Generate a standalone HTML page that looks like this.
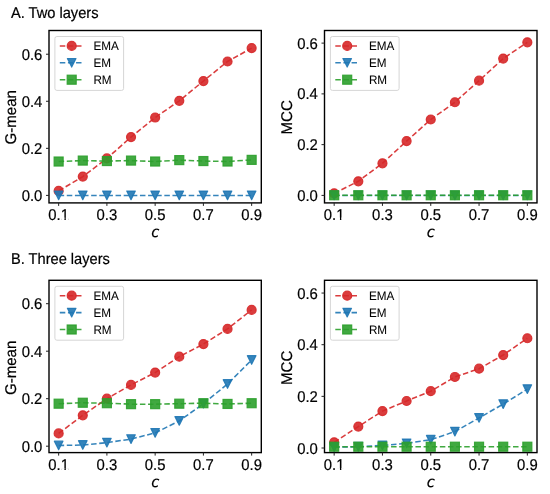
<!DOCTYPE html>
<html><head><meta charset="utf-8"><title>Figure</title>
<style>
html,body{margin:0;padding:0;background:#fff;}
svg{display:block;}
text{font-family:"Liberation Sans", Arial, sans-serif;fill:#000;text-rendering:geometricPrecision;}
</style></head>
<body>
<svg width="550" height="494" viewBox="0 0 550 494">
<rect width="550" height="494" fill="#fff"/>
<text transform="translate(10.90 17.60) scale(1.010 1.070)" font-size="14.50" text-anchor="start" stroke="#000" stroke-width="0.20" >A. Two layers</text>
<text transform="translate(10.90 263.60) scale(1.010 1.070)" font-size="14.50" text-anchor="start" stroke="#000" stroke-width="0.20" >B. Three layers</text>
<g opacity="0.90">
<path d="M58.65 190.93L82.78 176.58L106.90 158.46L131.03 137.05L155.15 117.52L179.28 100.81L203.40 81.04L227.53 61.51L251.65 48.10" fill="none" stroke="rgb(214,39,40)" stroke-width="1.55" stroke-dasharray="5.5,2.63"/>
</g>
<circle cx="58.65" cy="190.93" r="4.50" fill="rgb(214,39,40)" stroke="rgb(214,39,40)" stroke-width="1.20" fill-opacity="0.90" stroke-opacity="0.90"/>
<circle cx="82.78" cy="176.58" r="4.50" fill="rgb(214,39,40)" stroke="rgb(214,39,40)" stroke-width="1.20" fill-opacity="0.90" stroke-opacity="0.90"/>
<circle cx="106.90" cy="158.46" r="4.50" fill="rgb(214,39,40)" stroke="rgb(214,39,40)" stroke-width="1.20" fill-opacity="0.90" stroke-opacity="0.90"/>
<circle cx="131.03" cy="137.05" r="4.50" fill="rgb(214,39,40)" stroke="rgb(214,39,40)" stroke-width="1.20" fill-opacity="0.90" stroke-opacity="0.90"/>
<circle cx="155.15" cy="117.52" r="4.50" fill="rgb(214,39,40)" stroke="rgb(214,39,40)" stroke-width="1.20" fill-opacity="0.90" stroke-opacity="0.90"/>
<circle cx="179.28" cy="100.81" r="4.50" fill="rgb(214,39,40)" stroke="rgb(214,39,40)" stroke-width="1.20" fill-opacity="0.90" stroke-opacity="0.90"/>
<circle cx="203.40" cy="81.04" r="4.50" fill="rgb(214,39,40)" stroke="rgb(214,39,40)" stroke-width="1.20" fill-opacity="0.90" stroke-opacity="0.90"/>
<circle cx="227.53" cy="61.51" r="4.50" fill="rgb(214,39,40)" stroke="rgb(214,39,40)" stroke-width="1.20" fill-opacity="0.90" stroke-opacity="0.90"/>
<circle cx="251.65" cy="48.10" r="4.50" fill="rgb(214,39,40)" stroke="rgb(214,39,40)" stroke-width="1.20" fill-opacity="0.90" stroke-opacity="0.90"/>
<g opacity="0.90">
<path d="M58.65 195.40L82.78 195.40L106.90 195.40L131.03 195.40L155.15 195.40L179.28 195.40L203.40 195.40L227.53 195.40L251.65 195.40" fill="none" stroke="rgb(31,119,180)" stroke-width="1.55" stroke-dasharray="5.5,2.63"/>
</g>
<path d="M54.35 191.10L62.95 191.10L58.65 199.70Z" fill="rgb(31,119,180)" stroke="rgb(31,119,180)" stroke-linejoin="round" stroke-width="1.20" fill-opacity="0.90" stroke-opacity="0.90"/>
<path d="M78.48 191.10L87.08 191.10L82.78 199.70Z" fill="rgb(31,119,180)" stroke="rgb(31,119,180)" stroke-linejoin="round" stroke-width="1.20" fill-opacity="0.90" stroke-opacity="0.90"/>
<path d="M102.60 191.10L111.20 191.10L106.90 199.70Z" fill="rgb(31,119,180)" stroke="rgb(31,119,180)" stroke-linejoin="round" stroke-width="1.20" fill-opacity="0.90" stroke-opacity="0.90"/>
<path d="M126.73 191.10L135.33 191.10L131.03 199.70Z" fill="rgb(31,119,180)" stroke="rgb(31,119,180)" stroke-linejoin="round" stroke-width="1.20" fill-opacity="0.90" stroke-opacity="0.90"/>
<path d="M150.85 191.10L159.45 191.10L155.15 199.70Z" fill="rgb(31,119,180)" stroke="rgb(31,119,180)" stroke-linejoin="round" stroke-width="1.20" fill-opacity="0.90" stroke-opacity="0.90"/>
<path d="M174.97 191.10L183.58 191.10L179.28 199.70Z" fill="rgb(31,119,180)" stroke="rgb(31,119,180)" stroke-linejoin="round" stroke-width="1.20" fill-opacity="0.90" stroke-opacity="0.90"/>
<path d="M199.10 191.10L207.70 191.10L203.40 199.70Z" fill="rgb(31,119,180)" stroke="rgb(31,119,180)" stroke-linejoin="round" stroke-width="1.20" fill-opacity="0.90" stroke-opacity="0.90"/>
<path d="M223.22 191.10L231.83 191.10L227.53 199.70Z" fill="rgb(31,119,180)" stroke="rgb(31,119,180)" stroke-linejoin="round" stroke-width="1.20" fill-opacity="0.90" stroke-opacity="0.90"/>
<path d="M247.35 191.10L255.95 191.10L251.65 199.70Z" fill="rgb(31,119,180)" stroke="rgb(31,119,180)" stroke-linejoin="round" stroke-width="1.20" fill-opacity="0.90" stroke-opacity="0.90"/>
<g opacity="0.90">
<path d="M58.65 161.52L82.78 160.58L106.90 161.05L131.03 160.58L155.15 161.52L179.28 160.11L203.40 161.05L227.53 161.52L251.65 159.87" fill="none" stroke="rgb(44,160,44)" stroke-width="1.55" stroke-dasharray="5.5,2.63"/>
</g>
<rect x="54.15" y="157.02" width="9.00" height="9.00" fill="rgb(44,160,44)" stroke="rgb(44,160,44)" stroke-width="1.20" fill-opacity="0.90" stroke-opacity="0.90"/>
<rect x="78.28" y="156.08" width="9.00" height="9.00" fill="rgb(44,160,44)" stroke="rgb(44,160,44)" stroke-width="1.20" fill-opacity="0.90" stroke-opacity="0.90"/>
<rect x="102.40" y="156.55" width="9.00" height="9.00" fill="rgb(44,160,44)" stroke="rgb(44,160,44)" stroke-width="1.20" fill-opacity="0.90" stroke-opacity="0.90"/>
<rect x="126.53" y="156.08" width="9.00" height="9.00" fill="rgb(44,160,44)" stroke="rgb(44,160,44)" stroke-width="1.20" fill-opacity="0.90" stroke-opacity="0.90"/>
<rect x="150.65" y="157.02" width="9.00" height="9.00" fill="rgb(44,160,44)" stroke="rgb(44,160,44)" stroke-width="1.20" fill-opacity="0.90" stroke-opacity="0.90"/>
<rect x="174.78" y="155.61" width="9.00" height="9.00" fill="rgb(44,160,44)" stroke="rgb(44,160,44)" stroke-width="1.20" fill-opacity="0.90" stroke-opacity="0.90"/>
<rect x="198.90" y="156.55" width="9.00" height="9.00" fill="rgb(44,160,44)" stroke="rgb(44,160,44)" stroke-width="1.20" fill-opacity="0.90" stroke-opacity="0.90"/>
<rect x="223.03" y="157.02" width="9.00" height="9.00" fill="rgb(44,160,44)" stroke="rgb(44,160,44)" stroke-width="1.20" fill-opacity="0.90" stroke-opacity="0.90"/>
<rect x="247.15" y="155.37" width="9.00" height="9.00" fill="rgb(44,160,44)" stroke="rgb(44,160,44)" stroke-width="1.20" fill-opacity="0.90" stroke-opacity="0.90"/>
<rect x="49.00" y="30.50" width="212.30" height="172.40" fill="none" stroke="#000" stroke-width="1.4" stroke-linejoin="miter"/>
<path d="M58.65 202.90L58.65 205.90" stroke="#222" stroke-width="1.0"/>
<text transform="translate(58.65 219.70) scale(1.025 1.070)" font-size="14.50" text-anchor="middle" stroke="#000" stroke-width="0.20" >0.1</text>
<rect x="61.46" y="217.59" width="2.98" height="3.76" fill="#fff"/>
<rect x="65.80" y="217.59" width="2.87" height="3.76" fill="#fff"/>
<path d="M106.90 202.90L106.90 205.90" stroke="#222" stroke-width="1.0"/>
<text transform="translate(106.90 219.70) scale(1.025 1.070)" font-size="14.50" text-anchor="middle" stroke="#000" stroke-width="0.20" >0.3</text>
<path d="M155.15 202.90L155.15 205.90" stroke="#222" stroke-width="1.0"/>
<text transform="translate(155.15 219.70) scale(1.025 1.070)" font-size="14.50" text-anchor="middle" stroke="#000" stroke-width="0.20" >0.5</text>
<path d="M203.40 202.90L203.40 205.90" stroke="#222" stroke-width="1.0"/>
<text transform="translate(203.40 219.70) scale(1.025 1.070)" font-size="14.50" text-anchor="middle" stroke="#000" stroke-width="0.20" >0.7</text>
<path d="M251.65 202.90L251.65 205.90" stroke="#222" stroke-width="1.0"/>
<text transform="translate(251.65 219.70) scale(1.025 1.070)" font-size="14.50" text-anchor="middle" stroke="#000" stroke-width="0.20" >0.9</text>
<path d="M46.00 195.40L49.00 195.40" stroke="#222" stroke-width="1.0"/>
<text transform="translate(42.40 200.96) scale(1.025 1.070)" font-size="14.50" text-anchor="end" stroke="#000" stroke-width="0.20" >0.0</text>
<path d="M46.00 148.34L49.00 148.34" stroke="#222" stroke-width="1.0"/>
<text transform="translate(42.40 153.90) scale(1.025 1.070)" font-size="14.50" text-anchor="end" stroke="#000" stroke-width="0.20" >0.2</text>
<path d="M46.00 101.28L49.00 101.28" stroke="#222" stroke-width="1.0"/>
<text transform="translate(42.40 106.84) scale(1.025 1.070)" font-size="14.50" text-anchor="end" stroke="#000" stroke-width="0.20" >0.4</text>
<path d="M46.00 54.22L49.00 54.22" stroke="#222" stroke-width="1.0"/>
<text transform="translate(42.40 59.78) scale(1.025 1.070)" font-size="14.50" text-anchor="end" stroke="#000" stroke-width="0.20" >0.6</text>
<text transform="translate(16.00 117.30) rotate(-90) scale(1.040 1.070)" font-size="14.50" text-anchor="middle" stroke="#000" stroke-width="0.20" >G-mean</text>
<text transform="translate(155.15 236.60) scale(1.010 1.030)" font-size="14.50" text-anchor="middle" stroke="#000" stroke-width="0.20" style="font-family:'DejaVu Sans',sans-serif;font-style:italic">c</text>
<rect x="54.90" y="36.50" width="68.70" height="53.90" rx="2" ry="2" fill="#fff" fill-opacity="0.8" stroke="#d6d6d6" stroke-opacity="1" stroke-width="1"/>
<g opacity="0.90"><path d="M59.80 45.90L81.50 45.90" stroke="rgb(214,39,40)" stroke-width="1.55" stroke-dasharray="5.5,2.63"/></g>
<circle cx="71.70" cy="45.90" r="4.50" fill="rgb(214,39,40)" stroke="rgb(214,39,40)" stroke-width="1.20" fill-opacity="0.90" stroke-opacity="0.90"/>
<text transform="translate(93.40 50.30) scale(1.010 1.060)" font-size="11.60" text-anchor="start" stroke="#000" stroke-width="0.05" >EMA</text>
<g opacity="0.90"><path d="M59.80 62.80L81.50 62.80" stroke="rgb(31,119,180)" stroke-width="1.55" stroke-dasharray="5.5,2.63"/></g>
<path d="M67.40 58.50L76.00 58.50L71.70 67.10Z" fill="rgb(31,119,180)" stroke="rgb(31,119,180)" stroke-linejoin="round" stroke-width="1.20" fill-opacity="0.90" stroke-opacity="0.90"/>
<text transform="translate(93.40 67.20) scale(1.010 1.060)" font-size="11.60" text-anchor="start" stroke="#000" stroke-width="0.05" >EM</text>
<g opacity="0.90"><path d="M59.80 79.70L81.50 79.70" stroke="rgb(44,160,44)" stroke-width="1.55" stroke-dasharray="5.5,2.63"/></g>
<rect x="67.20" y="75.20" width="9.00" height="9.00" fill="rgb(44,160,44)" stroke="rgb(44,160,44)" stroke-width="1.20" fill-opacity="0.90" stroke-opacity="0.90"/>
<text transform="translate(93.40 84.10) scale(1.010 1.060)" font-size="11.60" text-anchor="start" stroke="#000" stroke-width="0.05" >RM</text>
<g opacity="0.90">
<path d="M334.16 193.37L358.31 181.29L382.45 163.29L406.60 141.09L430.75 119.51L454.90 102.26L479.05 80.68L503.19 58.60L527.34 42.36" fill="none" stroke="rgb(214,39,40)" stroke-width="1.55" stroke-dasharray="5.5,2.63"/>
</g>
<circle cx="334.16" cy="193.37" r="4.50" fill="rgb(214,39,40)" stroke="rgb(214,39,40)" stroke-width="1.20" fill-opacity="0.90" stroke-opacity="0.90"/>
<circle cx="358.31" cy="181.29" r="4.50" fill="rgb(214,39,40)" stroke="rgb(214,39,40)" stroke-width="1.20" fill-opacity="0.90" stroke-opacity="0.90"/>
<circle cx="382.45" cy="163.29" r="4.50" fill="rgb(214,39,40)" stroke="rgb(214,39,40)" stroke-width="1.20" fill-opacity="0.90" stroke-opacity="0.90"/>
<circle cx="406.60" cy="141.09" r="4.50" fill="rgb(214,39,40)" stroke="rgb(214,39,40)" stroke-width="1.20" fill-opacity="0.90" stroke-opacity="0.90"/>
<circle cx="430.75" cy="119.51" r="4.50" fill="rgb(214,39,40)" stroke="rgb(214,39,40)" stroke-width="1.20" fill-opacity="0.90" stroke-opacity="0.90"/>
<circle cx="454.90" cy="102.26" r="4.50" fill="rgb(214,39,40)" stroke="rgb(214,39,40)" stroke-width="1.20" fill-opacity="0.90" stroke-opacity="0.90"/>
<circle cx="479.05" cy="80.68" r="4.50" fill="rgb(214,39,40)" stroke="rgb(214,39,40)" stroke-width="1.20" fill-opacity="0.90" stroke-opacity="0.90"/>
<circle cx="503.19" cy="58.60" r="4.50" fill="rgb(214,39,40)" stroke="rgb(214,39,40)" stroke-width="1.20" fill-opacity="0.90" stroke-opacity="0.90"/>
<circle cx="527.34" cy="42.36" r="4.50" fill="rgb(214,39,40)" stroke="rgb(214,39,40)" stroke-width="1.20" fill-opacity="0.90" stroke-opacity="0.90"/>
<g opacity="0.90">
<path d="M334.16 195.40L358.31 195.40L382.45 195.40L406.60 195.40L430.75 195.40L454.90 195.40L479.05 195.40L503.19 195.40L527.34 195.40" fill="none" stroke="rgb(31,119,180)" stroke-width="1.55" stroke-dasharray="5.5,2.63"/>
</g>
<path d="M329.86 191.10L338.46 191.10L334.16 199.70Z" fill="rgb(31,119,180)" stroke="rgb(31,119,180)" stroke-linejoin="round" stroke-width="1.20" fill-opacity="0.90" stroke-opacity="0.90"/>
<path d="M354.01 191.10L362.61 191.10L358.31 199.70Z" fill="rgb(31,119,180)" stroke="rgb(31,119,180)" stroke-linejoin="round" stroke-width="1.20" fill-opacity="0.90" stroke-opacity="0.90"/>
<path d="M378.15 191.10L386.75 191.10L382.45 199.70Z" fill="rgb(31,119,180)" stroke="rgb(31,119,180)" stroke-linejoin="round" stroke-width="1.20" fill-opacity="0.90" stroke-opacity="0.90"/>
<path d="M402.30 191.10L410.90 191.10L406.60 199.70Z" fill="rgb(31,119,180)" stroke="rgb(31,119,180)" stroke-linejoin="round" stroke-width="1.20" fill-opacity="0.90" stroke-opacity="0.90"/>
<path d="M426.45 191.10L435.05 191.10L430.75 199.70Z" fill="rgb(31,119,180)" stroke="rgb(31,119,180)" stroke-linejoin="round" stroke-width="1.20" fill-opacity="0.90" stroke-opacity="0.90"/>
<path d="M450.60 191.10L459.20 191.10L454.90 199.70Z" fill="rgb(31,119,180)" stroke="rgb(31,119,180)" stroke-linejoin="round" stroke-width="1.20" fill-opacity="0.90" stroke-opacity="0.90"/>
<path d="M474.75 191.10L483.35 191.10L479.05 199.70Z" fill="rgb(31,119,180)" stroke="rgb(31,119,180)" stroke-linejoin="round" stroke-width="1.20" fill-opacity="0.90" stroke-opacity="0.90"/>
<path d="M498.89 191.10L507.49 191.10L503.19 199.70Z" fill="rgb(31,119,180)" stroke="rgb(31,119,180)" stroke-linejoin="round" stroke-width="1.20" fill-opacity="0.90" stroke-opacity="0.90"/>
<path d="M523.04 191.10L531.64 191.10L527.34 199.70Z" fill="rgb(31,119,180)" stroke="rgb(31,119,180)" stroke-linejoin="round" stroke-width="1.20" fill-opacity="0.90" stroke-opacity="0.90"/>
<g opacity="0.90">
<path d="M334.16 195.25L358.31 195.25L382.45 195.25L406.60 195.25L430.75 195.25L454.90 195.25L479.05 195.25L503.19 195.25L527.34 195.25" fill="none" stroke="rgb(44,160,44)" stroke-width="1.55" stroke-dasharray="5.5,2.63"/>
</g>
<rect x="329.66" y="190.75" width="9.00" height="9.00" fill="rgb(44,160,44)" stroke="rgb(44,160,44)" stroke-width="1.20" fill-opacity="0.90" stroke-opacity="0.90"/>
<rect x="353.81" y="190.75" width="9.00" height="9.00" fill="rgb(44,160,44)" stroke="rgb(44,160,44)" stroke-width="1.20" fill-opacity="0.90" stroke-opacity="0.90"/>
<rect x="377.95" y="190.75" width="9.00" height="9.00" fill="rgb(44,160,44)" stroke="rgb(44,160,44)" stroke-width="1.20" fill-opacity="0.90" stroke-opacity="0.90"/>
<rect x="402.10" y="190.75" width="9.00" height="9.00" fill="rgb(44,160,44)" stroke="rgb(44,160,44)" stroke-width="1.20" fill-opacity="0.90" stroke-opacity="0.90"/>
<rect x="426.25" y="190.75" width="9.00" height="9.00" fill="rgb(44,160,44)" stroke="rgb(44,160,44)" stroke-width="1.20" fill-opacity="0.90" stroke-opacity="0.90"/>
<rect x="450.40" y="190.75" width="9.00" height="9.00" fill="rgb(44,160,44)" stroke="rgb(44,160,44)" stroke-width="1.20" fill-opacity="0.90" stroke-opacity="0.90"/>
<rect x="474.55" y="190.75" width="9.00" height="9.00" fill="rgb(44,160,44)" stroke="rgb(44,160,44)" stroke-width="1.20" fill-opacity="0.90" stroke-opacity="0.90"/>
<rect x="498.69" y="190.75" width="9.00" height="9.00" fill="rgb(44,160,44)" stroke="rgb(44,160,44)" stroke-width="1.20" fill-opacity="0.90" stroke-opacity="0.90"/>
<rect x="522.84" y="190.75" width="9.00" height="9.00" fill="rgb(44,160,44)" stroke="rgb(44,160,44)" stroke-width="1.20" fill-opacity="0.90" stroke-opacity="0.90"/>
<rect x="324.50" y="30.50" width="212.50" height="172.40" fill="none" stroke="#000" stroke-width="1.4" stroke-linejoin="miter"/>
<path d="M334.16 202.90L334.16 205.90" stroke="#222" stroke-width="1.0"/>
<text transform="translate(334.16 219.70) scale(1.025 1.070)" font-size="14.50" text-anchor="middle" stroke="#000" stroke-width="0.20" >0.1</text>
<rect x="336.97" y="217.59" width="2.98" height="3.76" fill="#fff"/>
<rect x="341.31" y="217.59" width="2.87" height="3.76" fill="#fff"/>
<path d="M382.45 202.90L382.45 205.90" stroke="#222" stroke-width="1.0"/>
<text transform="translate(382.45 219.70) scale(1.025 1.070)" font-size="14.50" text-anchor="middle" stroke="#000" stroke-width="0.20" >0.3</text>
<path d="M430.75 202.90L430.75 205.90" stroke="#222" stroke-width="1.0"/>
<text transform="translate(430.75 219.70) scale(1.025 1.070)" font-size="14.50" text-anchor="middle" stroke="#000" stroke-width="0.20" >0.5</text>
<path d="M479.05 202.90L479.05 205.90" stroke="#222" stroke-width="1.0"/>
<text transform="translate(479.05 219.70) scale(1.025 1.070)" font-size="14.50" text-anchor="middle" stroke="#000" stroke-width="0.20" >0.7</text>
<path d="M527.34 202.90L527.34 205.90" stroke="#222" stroke-width="1.0"/>
<text transform="translate(527.34 219.70) scale(1.025 1.070)" font-size="14.50" text-anchor="middle" stroke="#000" stroke-width="0.20" >0.9</text>
<path d="M321.50 195.40L324.50 195.40" stroke="#222" stroke-width="1.0"/>
<text transform="translate(317.90 200.96) scale(1.025 1.070)" font-size="14.50" text-anchor="end" stroke="#000" stroke-width="0.20" >0.0</text>
<path d="M321.50 144.64L324.50 144.64" stroke="#222" stroke-width="1.0"/>
<text transform="translate(317.90 150.20) scale(1.025 1.070)" font-size="14.50" text-anchor="end" stroke="#000" stroke-width="0.20" >0.2</text>
<path d="M321.50 93.88L324.50 93.88" stroke="#222" stroke-width="1.0"/>
<text transform="translate(317.90 99.44) scale(1.025 1.070)" font-size="14.50" text-anchor="end" stroke="#000" stroke-width="0.20" >0.4</text>
<path d="M321.50 43.12L324.50 43.12" stroke="#222" stroke-width="1.0"/>
<text transform="translate(317.90 48.68) scale(1.025 1.070)" font-size="14.50" text-anchor="end" stroke="#000" stroke-width="0.20" >0.6</text>
<text transform="translate(291.50 117.30) rotate(-90) scale(1.040 1.070)" font-size="14.50" text-anchor="middle" stroke="#000" stroke-width="0.20" >MCC</text>
<text transform="translate(430.75 236.60) scale(1.010 1.030)" font-size="14.50" text-anchor="middle" stroke="#000" stroke-width="0.20" style="font-family:'DejaVu Sans',sans-serif;font-style:italic">c</text>
<rect x="330.40" y="36.50" width="68.70" height="53.90" rx="2" ry="2" fill="#fff" fill-opacity="0.8" stroke="#d6d6d6" stroke-opacity="1" stroke-width="1"/>
<g opacity="0.90"><path d="M335.30 45.90L357.00 45.90" stroke="rgb(214,39,40)" stroke-width="1.55" stroke-dasharray="5.5,2.63"/></g>
<circle cx="347.20" cy="45.90" r="4.50" fill="rgb(214,39,40)" stroke="rgb(214,39,40)" stroke-width="1.20" fill-opacity="0.90" stroke-opacity="0.90"/>
<text transform="translate(368.90 50.30) scale(1.010 1.060)" font-size="11.60" text-anchor="start" stroke="#000" stroke-width="0.05" >EMA</text>
<g opacity="0.90"><path d="M335.30 62.80L357.00 62.80" stroke="rgb(31,119,180)" stroke-width="1.55" stroke-dasharray="5.5,2.63"/></g>
<path d="M342.90 58.50L351.50 58.50L347.20 67.10Z" fill="rgb(31,119,180)" stroke="rgb(31,119,180)" stroke-linejoin="round" stroke-width="1.20" fill-opacity="0.90" stroke-opacity="0.90"/>
<text transform="translate(368.90 67.20) scale(1.010 1.060)" font-size="11.60" text-anchor="start" stroke="#000" stroke-width="0.05" >EM</text>
<g opacity="0.90"><path d="M335.30 79.70L357.00 79.70" stroke="rgb(44,160,44)" stroke-width="1.55" stroke-dasharray="5.5,2.63"/></g>
<rect x="342.70" y="75.20" width="9.00" height="9.00" fill="rgb(44,160,44)" stroke="rgb(44,160,44)" stroke-width="1.20" fill-opacity="0.90" stroke-opacity="0.90"/>
<text transform="translate(368.90 84.10) scale(1.010 1.060)" font-size="11.60" text-anchor="start" stroke="#000" stroke-width="0.05" >RM</text>
<g opacity="0.90">
<path d="M58.65 433.38L82.78 415.32L106.90 398.70L131.03 384.93L155.15 372.57L179.28 356.66L203.40 344.07L227.53 328.88L251.65 309.88" fill="none" stroke="rgb(214,39,40)" stroke-width="1.55" stroke-dasharray="5.5,2.63"/>
</g>
<circle cx="58.65" cy="433.38" r="4.50" fill="rgb(214,39,40)" stroke="rgb(214,39,40)" stroke-width="1.20" fill-opacity="0.90" stroke-opacity="0.90"/>
<circle cx="82.78" cy="415.32" r="4.50" fill="rgb(214,39,40)" stroke="rgb(214,39,40)" stroke-width="1.20" fill-opacity="0.90" stroke-opacity="0.90"/>
<circle cx="106.90" cy="398.70" r="4.50" fill="rgb(214,39,40)" stroke="rgb(214,39,40)" stroke-width="1.20" fill-opacity="0.90" stroke-opacity="0.90"/>
<circle cx="131.03" cy="384.93" r="4.50" fill="rgb(214,39,40)" stroke="rgb(214,39,40)" stroke-width="1.20" fill-opacity="0.90" stroke-opacity="0.90"/>
<circle cx="155.15" cy="372.57" r="4.50" fill="rgb(214,39,40)" stroke="rgb(214,39,40)" stroke-width="1.20" fill-opacity="0.90" stroke-opacity="0.90"/>
<circle cx="179.28" cy="356.66" r="4.50" fill="rgb(214,39,40)" stroke="rgb(214,39,40)" stroke-width="1.20" fill-opacity="0.90" stroke-opacity="0.90"/>
<circle cx="203.40" cy="344.07" r="4.50" fill="rgb(214,39,40)" stroke="rgb(214,39,40)" stroke-width="1.20" fill-opacity="0.90" stroke-opacity="0.90"/>
<circle cx="227.53" cy="328.88" r="4.50" fill="rgb(214,39,40)" stroke="rgb(214,39,40)" stroke-width="1.20" fill-opacity="0.90" stroke-opacity="0.90"/>
<circle cx="251.65" cy="309.88" r="4.50" fill="rgb(214,39,40)" stroke="rgb(214,39,40)" stroke-width="1.20" fill-opacity="0.90" stroke-opacity="0.90"/>
<g opacity="0.90">
<path d="M58.65 445.49L82.78 445.01L106.90 442.64L131.03 439.07L155.15 432.90L179.28 420.91L203.40 403.69L227.53 383.97L251.65 359.99" fill="none" stroke="rgb(31,119,180)" stroke-width="1.55" stroke-dasharray="5.5,2.63"/>
</g>
<path d="M54.35 441.19L62.95 441.19L58.65 449.79Z" fill="rgb(31,119,180)" stroke="rgb(31,119,180)" stroke-linejoin="round" stroke-width="1.20" fill-opacity="0.90" stroke-opacity="0.90"/>
<path d="M78.48 440.71L87.08 440.71L82.78 449.31Z" fill="rgb(31,119,180)" stroke="rgb(31,119,180)" stroke-linejoin="round" stroke-width="1.20" fill-opacity="0.90" stroke-opacity="0.90"/>
<path d="M102.60 438.34L111.20 438.34L106.90 446.94Z" fill="rgb(31,119,180)" stroke="rgb(31,119,180)" stroke-linejoin="round" stroke-width="1.20" fill-opacity="0.90" stroke-opacity="0.90"/>
<path d="M126.73 434.77L135.33 434.77L131.03 443.38Z" fill="rgb(31,119,180)" stroke="rgb(31,119,180)" stroke-linejoin="round" stroke-width="1.20" fill-opacity="0.90" stroke-opacity="0.90"/>
<path d="M150.85 428.60L159.45 428.60L155.15 437.20Z" fill="rgb(31,119,180)" stroke="rgb(31,119,180)" stroke-linejoin="round" stroke-width="1.20" fill-opacity="0.90" stroke-opacity="0.90"/>
<path d="M174.97 416.61L183.58 416.61L179.28 425.21Z" fill="rgb(31,119,180)" stroke="rgb(31,119,180)" stroke-linejoin="round" stroke-width="1.20" fill-opacity="0.90" stroke-opacity="0.90"/>
<path d="M199.10 399.39L207.70 399.39L203.40 407.99Z" fill="rgb(31,119,180)" stroke="rgb(31,119,180)" stroke-linejoin="round" stroke-width="1.20" fill-opacity="0.90" stroke-opacity="0.90"/>
<path d="M223.22 379.67L231.83 379.67L227.53 388.27Z" fill="rgb(31,119,180)" stroke="rgb(31,119,180)" stroke-linejoin="round" stroke-width="1.20" fill-opacity="0.90" stroke-opacity="0.90"/>
<path d="M247.35 355.69L255.95 355.69L251.65 364.29Z" fill="rgb(31,119,180)" stroke="rgb(31,119,180)" stroke-linejoin="round" stroke-width="1.20" fill-opacity="0.90" stroke-opacity="0.90"/>
<g opacity="0.90">
<path d="M58.65 403.69L82.78 402.74L106.90 403.21L131.03 404.16L155.15 404.16L179.28 403.69L203.40 403.21L227.53 403.93L251.65 403.21" fill="none" stroke="rgb(44,160,44)" stroke-width="1.55" stroke-dasharray="5.5,2.63"/>
</g>
<rect x="54.15" y="399.19" width="9.00" height="9.00" fill="rgb(44,160,44)" stroke="rgb(44,160,44)" stroke-width="1.20" fill-opacity="0.90" stroke-opacity="0.90"/>
<rect x="78.28" y="398.24" width="9.00" height="9.00" fill="rgb(44,160,44)" stroke="rgb(44,160,44)" stroke-width="1.20" fill-opacity="0.90" stroke-opacity="0.90"/>
<rect x="102.40" y="398.71" width="9.00" height="9.00" fill="rgb(44,160,44)" stroke="rgb(44,160,44)" stroke-width="1.20" fill-opacity="0.90" stroke-opacity="0.90"/>
<rect x="126.53" y="399.66" width="9.00" height="9.00" fill="rgb(44,160,44)" stroke="rgb(44,160,44)" stroke-width="1.20" fill-opacity="0.90" stroke-opacity="0.90"/>
<rect x="150.65" y="399.66" width="9.00" height="9.00" fill="rgb(44,160,44)" stroke="rgb(44,160,44)" stroke-width="1.20" fill-opacity="0.90" stroke-opacity="0.90"/>
<rect x="174.78" y="399.19" width="9.00" height="9.00" fill="rgb(44,160,44)" stroke="rgb(44,160,44)" stroke-width="1.20" fill-opacity="0.90" stroke-opacity="0.90"/>
<rect x="198.90" y="398.71" width="9.00" height="9.00" fill="rgb(44,160,44)" stroke="rgb(44,160,44)" stroke-width="1.20" fill-opacity="0.90" stroke-opacity="0.90"/>
<rect x="223.03" y="399.43" width="9.00" height="9.00" fill="rgb(44,160,44)" stroke="rgb(44,160,44)" stroke-width="1.20" fill-opacity="0.90" stroke-opacity="0.90"/>
<rect x="247.15" y="398.71" width="9.00" height="9.00" fill="rgb(44,160,44)" stroke="rgb(44,160,44)" stroke-width="1.20" fill-opacity="0.90" stroke-opacity="0.90"/>
<rect x="49.00" y="280.30" width="212.30" height="172.30" fill="none" stroke="#000" stroke-width="1.4" stroke-linejoin="miter"/>
<path d="M58.65 452.60L58.65 455.60" stroke="#222" stroke-width="1.0"/>
<text transform="translate(58.65 470.20) scale(1.025 1.070)" font-size="14.50" text-anchor="middle" stroke="#000" stroke-width="0.20" >0.1</text>
<rect x="61.46" y="468.09" width="2.98" height="3.76" fill="#fff"/>
<rect x="65.80" y="468.09" width="2.87" height="3.76" fill="#fff"/>
<path d="M106.90 452.60L106.90 455.60" stroke="#222" stroke-width="1.0"/>
<text transform="translate(106.90 470.20) scale(1.025 1.070)" font-size="14.50" text-anchor="middle" stroke="#000" stroke-width="0.20" >0.3</text>
<path d="M155.15 452.60L155.15 455.60" stroke="#222" stroke-width="1.0"/>
<text transform="translate(155.15 470.20) scale(1.025 1.070)" font-size="14.50" text-anchor="middle" stroke="#000" stroke-width="0.20" >0.5</text>
<path d="M203.40 452.60L203.40 455.60" stroke="#222" stroke-width="1.0"/>
<text transform="translate(203.40 470.20) scale(1.025 1.070)" font-size="14.50" text-anchor="middle" stroke="#000" stroke-width="0.20" >0.7</text>
<path d="M251.65 452.60L251.65 455.60" stroke="#222" stroke-width="1.0"/>
<text transform="translate(251.65 470.20) scale(1.025 1.070)" font-size="14.50" text-anchor="middle" stroke="#000" stroke-width="0.20" >0.9</text>
<path d="M46.00 446.20L49.00 446.20" stroke="#222" stroke-width="1.0"/>
<text transform="translate(42.40 451.76) scale(1.025 1.070)" font-size="14.50" text-anchor="end" stroke="#000" stroke-width="0.20" >0.0</text>
<path d="M46.00 398.70L49.00 398.70" stroke="#222" stroke-width="1.0"/>
<text transform="translate(42.40 404.26) scale(1.025 1.070)" font-size="14.50" text-anchor="end" stroke="#000" stroke-width="0.20" >0.2</text>
<path d="M46.00 351.20L49.00 351.20" stroke="#222" stroke-width="1.0"/>
<text transform="translate(42.40 356.76) scale(1.025 1.070)" font-size="14.50" text-anchor="end" stroke="#000" stroke-width="0.20" >0.4</text>
<path d="M46.00 303.70L49.00 303.70" stroke="#222" stroke-width="1.0"/>
<text transform="translate(42.40 309.26) scale(1.025 1.070)" font-size="14.50" text-anchor="end" stroke="#000" stroke-width="0.20" >0.6</text>
<text transform="translate(16.00 367.85) rotate(-90) scale(1.040 1.070)" font-size="14.50" text-anchor="middle" stroke="#000" stroke-width="0.20" >G-mean</text>
<text transform="translate(155.15 486.80) scale(1.010 1.030)" font-size="14.50" text-anchor="middle" stroke="#000" stroke-width="0.20" style="font-family:'DejaVu Sans',sans-serif;font-style:italic">c</text>
<rect x="54.90" y="286.30" width="68.70" height="53.90" rx="2" ry="2" fill="#fff" fill-opacity="0.8" stroke="#d6d6d6" stroke-opacity="1" stroke-width="1"/>
<g opacity="0.90"><path d="M59.80 295.70L81.50 295.70" stroke="rgb(214,39,40)" stroke-width="1.55" stroke-dasharray="5.5,2.63"/></g>
<circle cx="71.70" cy="295.70" r="4.50" fill="rgb(214,39,40)" stroke="rgb(214,39,40)" stroke-width="1.20" fill-opacity="0.90" stroke-opacity="0.90"/>
<text transform="translate(93.40 300.10) scale(1.010 1.060)" font-size="11.60" text-anchor="start" stroke="#000" stroke-width="0.05" >EMA</text>
<g opacity="0.90"><path d="M59.80 312.60L81.50 312.60" stroke="rgb(31,119,180)" stroke-width="1.55" stroke-dasharray="5.5,2.63"/></g>
<path d="M67.40 308.30L76.00 308.30L71.70 316.90Z" fill="rgb(31,119,180)" stroke="rgb(31,119,180)" stroke-linejoin="round" stroke-width="1.20" fill-opacity="0.90" stroke-opacity="0.90"/>
<text transform="translate(93.40 317.00) scale(1.010 1.060)" font-size="11.60" text-anchor="start" stroke="#000" stroke-width="0.05" >EM</text>
<g opacity="0.90"><path d="M59.80 329.50L81.50 329.50" stroke="rgb(44,160,44)" stroke-width="1.55" stroke-dasharray="5.5,2.63"/></g>
<rect x="67.20" y="325.00" width="9.00" height="9.00" fill="rgb(44,160,44)" stroke="rgb(44,160,44)" stroke-width="1.20" fill-opacity="0.90" stroke-opacity="0.90"/>
<text transform="translate(93.40 333.90) scale(1.010 1.060)" font-size="11.60" text-anchor="start" stroke="#000" stroke-width="0.05" >RM</text>
<g opacity="0.90">
<path d="M334.16 442.32L358.31 426.57L382.45 411.07L406.60 401.00L430.75 391.19L454.90 376.98L479.05 368.72L503.19 355.03L527.34 338.24" fill="none" stroke="rgb(214,39,40)" stroke-width="1.55" stroke-dasharray="5.5,2.63"/>
</g>
<circle cx="334.16" cy="442.32" r="4.50" fill="rgb(214,39,40)" stroke="rgb(214,39,40)" stroke-width="1.20" fill-opacity="0.90" stroke-opacity="0.90"/>
<circle cx="358.31" cy="426.57" r="4.50" fill="rgb(214,39,40)" stroke="rgb(214,39,40)" stroke-width="1.20" fill-opacity="0.90" stroke-opacity="0.90"/>
<circle cx="382.45" cy="411.07" r="4.50" fill="rgb(214,39,40)" stroke="rgb(214,39,40)" stroke-width="1.20" fill-opacity="0.90" stroke-opacity="0.90"/>
<circle cx="406.60" cy="401.00" r="4.50" fill="rgb(214,39,40)" stroke="rgb(214,39,40)" stroke-width="1.20" fill-opacity="0.90" stroke-opacity="0.90"/>
<circle cx="430.75" cy="391.19" r="4.50" fill="rgb(214,39,40)" stroke="rgb(214,39,40)" stroke-width="1.20" fill-opacity="0.90" stroke-opacity="0.90"/>
<circle cx="454.90" cy="376.98" r="4.50" fill="rgb(214,39,40)" stroke="rgb(214,39,40)" stroke-width="1.20" fill-opacity="0.90" stroke-opacity="0.90"/>
<circle cx="479.05" cy="368.72" r="4.50" fill="rgb(214,39,40)" stroke="rgb(214,39,40)" stroke-width="1.20" fill-opacity="0.90" stroke-opacity="0.90"/>
<circle cx="503.19" cy="355.03" r="4.50" fill="rgb(214,39,40)" stroke="rgb(214,39,40)" stroke-width="1.20" fill-opacity="0.90" stroke-opacity="0.90"/>
<circle cx="527.34" cy="338.24" r="4.50" fill="rgb(214,39,40)" stroke="rgb(214,39,40)" stroke-width="1.20" fill-opacity="0.90" stroke-opacity="0.90"/>
<g opacity="0.90">
<path d="M334.16 447.23L358.31 446.71L382.45 445.42L406.60 443.35L430.75 439.74L454.90 431.60L479.05 417.91L503.19 404.10L527.34 389.12" fill="none" stroke="rgb(31,119,180)" stroke-width="1.55" stroke-dasharray="5.5,2.63"/>
</g>
<path d="M329.86 442.93L338.46 442.93L334.16 451.53Z" fill="rgb(31,119,180)" stroke="rgb(31,119,180)" stroke-linejoin="round" stroke-width="1.20" fill-opacity="0.90" stroke-opacity="0.90"/>
<path d="M354.01 442.41L362.61 442.41L358.31 451.01Z" fill="rgb(31,119,180)" stroke="rgb(31,119,180)" stroke-linejoin="round" stroke-width="1.20" fill-opacity="0.90" stroke-opacity="0.90"/>
<path d="M378.15 441.12L386.75 441.12L382.45 449.72Z" fill="rgb(31,119,180)" stroke="rgb(31,119,180)" stroke-linejoin="round" stroke-width="1.20" fill-opacity="0.90" stroke-opacity="0.90"/>
<path d="M402.30 439.05L410.90 439.05L406.60 447.65Z" fill="rgb(31,119,180)" stroke="rgb(31,119,180)" stroke-linejoin="round" stroke-width="1.20" fill-opacity="0.90" stroke-opacity="0.90"/>
<path d="M426.45 435.44L435.05 435.44L430.75 444.04Z" fill="rgb(31,119,180)" stroke="rgb(31,119,180)" stroke-linejoin="round" stroke-width="1.20" fill-opacity="0.90" stroke-opacity="0.90"/>
<path d="M450.60 427.30L459.20 427.30L454.90 435.90Z" fill="rgb(31,119,180)" stroke="rgb(31,119,180)" stroke-linejoin="round" stroke-width="1.20" fill-opacity="0.90" stroke-opacity="0.90"/>
<path d="M474.75 413.61L483.35 413.61L479.05 422.21Z" fill="rgb(31,119,180)" stroke="rgb(31,119,180)" stroke-linejoin="round" stroke-width="1.20" fill-opacity="0.90" stroke-opacity="0.90"/>
<path d="M498.89 399.80L507.49 399.80L503.19 408.40Z" fill="rgb(31,119,180)" stroke="rgb(31,119,180)" stroke-linejoin="round" stroke-width="1.20" fill-opacity="0.90" stroke-opacity="0.90"/>
<path d="M523.04 384.82L531.64 384.82L527.34 393.42Z" fill="rgb(31,119,180)" stroke="rgb(31,119,180)" stroke-linejoin="round" stroke-width="1.20" fill-opacity="0.90" stroke-opacity="0.90"/>
<g opacity="0.90">
<path d="M334.16 446.71L358.31 446.71L382.45 446.71L406.60 446.71L430.75 446.71L454.90 446.71L479.05 446.71L503.19 446.71L527.34 446.71" fill="none" stroke="rgb(44,160,44)" stroke-width="1.55" stroke-dasharray="5.5,2.63"/>
</g>
<rect x="329.66" y="442.21" width="9.00" height="9.00" fill="rgb(44,160,44)" stroke="rgb(44,160,44)" stroke-width="1.20" fill-opacity="0.90" stroke-opacity="0.90"/>
<rect x="353.81" y="442.21" width="9.00" height="9.00" fill="rgb(44,160,44)" stroke="rgb(44,160,44)" stroke-width="1.20" fill-opacity="0.90" stroke-opacity="0.90"/>
<rect x="377.95" y="442.21" width="9.00" height="9.00" fill="rgb(44,160,44)" stroke="rgb(44,160,44)" stroke-width="1.20" fill-opacity="0.90" stroke-opacity="0.90"/>
<rect x="402.10" y="442.21" width="9.00" height="9.00" fill="rgb(44,160,44)" stroke="rgb(44,160,44)" stroke-width="1.20" fill-opacity="0.90" stroke-opacity="0.90"/>
<rect x="426.25" y="442.21" width="9.00" height="9.00" fill="rgb(44,160,44)" stroke="rgb(44,160,44)" stroke-width="1.20" fill-opacity="0.90" stroke-opacity="0.90"/>
<rect x="450.40" y="442.21" width="9.00" height="9.00" fill="rgb(44,160,44)" stroke="rgb(44,160,44)" stroke-width="1.20" fill-opacity="0.90" stroke-opacity="0.90"/>
<rect x="474.55" y="442.21" width="9.00" height="9.00" fill="rgb(44,160,44)" stroke="rgb(44,160,44)" stroke-width="1.20" fill-opacity="0.90" stroke-opacity="0.90"/>
<rect x="498.69" y="442.21" width="9.00" height="9.00" fill="rgb(44,160,44)" stroke="rgb(44,160,44)" stroke-width="1.20" fill-opacity="0.90" stroke-opacity="0.90"/>
<rect x="522.84" y="442.21" width="9.00" height="9.00" fill="rgb(44,160,44)" stroke="rgb(44,160,44)" stroke-width="1.20" fill-opacity="0.90" stroke-opacity="0.90"/>
<rect x="324.50" y="280.30" width="212.50" height="172.30" fill="none" stroke="#000" stroke-width="1.4" stroke-linejoin="miter"/>
<path d="M334.16 452.60L334.16 455.60" stroke="#222" stroke-width="1.0"/>
<text transform="translate(334.16 470.20) scale(1.025 1.070)" font-size="14.50" text-anchor="middle" stroke="#000" stroke-width="0.20" >0.1</text>
<rect x="336.97" y="468.09" width="2.98" height="3.76" fill="#fff"/>
<rect x="341.31" y="468.09" width="2.87" height="3.76" fill="#fff"/>
<path d="M382.45 452.60L382.45 455.60" stroke="#222" stroke-width="1.0"/>
<text transform="translate(382.45 470.20) scale(1.025 1.070)" font-size="14.50" text-anchor="middle" stroke="#000" stroke-width="0.20" >0.3</text>
<path d="M430.75 452.60L430.75 455.60" stroke="#222" stroke-width="1.0"/>
<text transform="translate(430.75 470.20) scale(1.025 1.070)" font-size="14.50" text-anchor="middle" stroke="#000" stroke-width="0.20" >0.5</text>
<path d="M479.05 452.60L479.05 455.60" stroke="#222" stroke-width="1.0"/>
<text transform="translate(479.05 470.20) scale(1.025 1.070)" font-size="14.50" text-anchor="middle" stroke="#000" stroke-width="0.20" >0.7</text>
<path d="M527.34 452.60L527.34 455.60" stroke="#222" stroke-width="1.0"/>
<text transform="translate(527.34 470.20) scale(1.025 1.070)" font-size="14.50" text-anchor="middle" stroke="#000" stroke-width="0.20" >0.9</text>
<path d="M321.50 448.00L324.50 448.00" stroke="#222" stroke-width="1.0"/>
<text transform="translate(317.90 453.56) scale(1.025 1.070)" font-size="14.50" text-anchor="end" stroke="#000" stroke-width="0.20" >0.0</text>
<path d="M321.50 396.35L324.50 396.35" stroke="#222" stroke-width="1.0"/>
<text transform="translate(317.90 401.91) scale(1.025 1.070)" font-size="14.50" text-anchor="end" stroke="#000" stroke-width="0.20" >0.2</text>
<path d="M321.50 344.70L324.50 344.70" stroke="#222" stroke-width="1.0"/>
<text transform="translate(317.90 350.26) scale(1.025 1.070)" font-size="14.50" text-anchor="end" stroke="#000" stroke-width="0.20" >0.4</text>
<path d="M321.50 293.05L324.50 293.05" stroke="#222" stroke-width="1.0"/>
<text transform="translate(317.90 298.61) scale(1.025 1.070)" font-size="14.50" text-anchor="end" stroke="#000" stroke-width="0.20" >0.6</text>
<text transform="translate(291.50 367.85) rotate(-90) scale(1.040 1.070)" font-size="14.50" text-anchor="middle" stroke="#000" stroke-width="0.20" >MCC</text>
<text transform="translate(430.75 486.80) scale(1.010 1.030)" font-size="14.50" text-anchor="middle" stroke="#000" stroke-width="0.20" style="font-family:'DejaVu Sans',sans-serif;font-style:italic">c</text>
<rect x="330.40" y="286.30" width="68.70" height="53.90" rx="2" ry="2" fill="#fff" fill-opacity="0.8" stroke="#d6d6d6" stroke-opacity="1" stroke-width="1"/>
<g opacity="0.90"><path d="M335.30 295.70L357.00 295.70" stroke="rgb(214,39,40)" stroke-width="1.55" stroke-dasharray="5.5,2.63"/></g>
<circle cx="347.20" cy="295.70" r="4.50" fill="rgb(214,39,40)" stroke="rgb(214,39,40)" stroke-width="1.20" fill-opacity="0.90" stroke-opacity="0.90"/>
<text transform="translate(368.90 300.10) scale(1.010 1.060)" font-size="11.60" text-anchor="start" stroke="#000" stroke-width="0.05" >EMA</text>
<g opacity="0.90"><path d="M335.30 312.60L357.00 312.60" stroke="rgb(31,119,180)" stroke-width="1.55" stroke-dasharray="5.5,2.63"/></g>
<path d="M342.90 308.30L351.50 308.30L347.20 316.90Z" fill="rgb(31,119,180)" stroke="rgb(31,119,180)" stroke-linejoin="round" stroke-width="1.20" fill-opacity="0.90" stroke-opacity="0.90"/>
<text transform="translate(368.90 317.00) scale(1.010 1.060)" font-size="11.60" text-anchor="start" stroke="#000" stroke-width="0.05" >EM</text>
<g opacity="0.90"><path d="M335.30 329.50L357.00 329.50" stroke="rgb(44,160,44)" stroke-width="1.55" stroke-dasharray="5.5,2.63"/></g>
<rect x="342.70" y="325.00" width="9.00" height="9.00" fill="rgb(44,160,44)" stroke="rgb(44,160,44)" stroke-width="1.20" fill-opacity="0.90" stroke-opacity="0.90"/>
<text transform="translate(368.90 333.90) scale(1.010 1.060)" font-size="11.60" text-anchor="start" stroke="#000" stroke-width="0.05" >RM</text>
</svg>
</body></html>
